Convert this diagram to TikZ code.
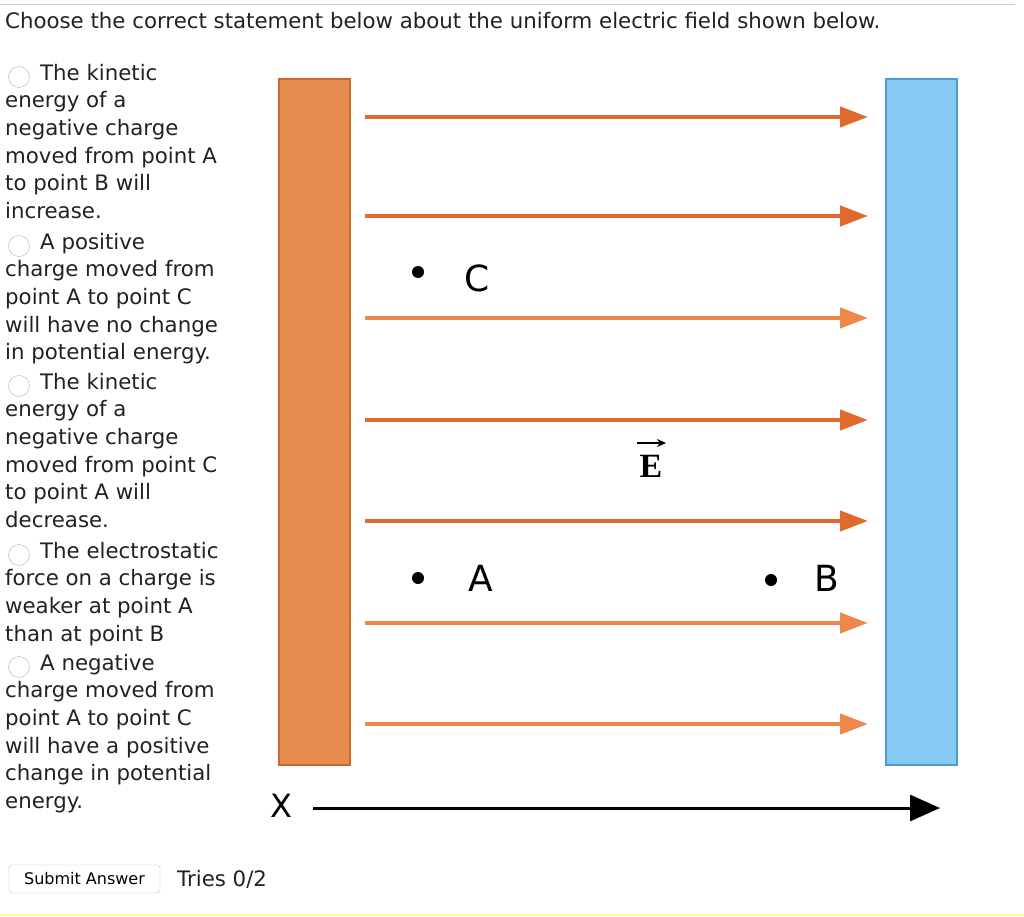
\documentclass[tikz,border=0pt]{standalone}
\usepackage{fontspec}
\setmainfont{DejaVu Sans}
\newfontfamily\serifE{Liberation Serif}
\usetikzlibrary{arrows.meta}
\definecolor{plateO}{HTML}{E58B50}
\definecolor{plateOb}{HTML}{C9692E}
\definecolor{plateB}{HTML}{86C9F2}
\definecolor{plateBb}{HTML}{4A9BD6}
\definecolor{arrD}{HTML}{DF6A2C}
\definecolor{arrL}{HTML}{F0874A}
\definecolor{txt}{HTML}{222222}
\begin{document}
\begin{tikzpicture}[x=1pt,y=-1pt,
  qtext/.style={anchor=north west,align=left,inner sep=0pt,font=\fontsize{21.3}{27.6}\selectfont,text=txt},
  radio/.style={circle,draw=gray!60,minimum size=21pt,inner sep=0pt},
  field/.style={line width=4.5pt,-{Triangle[length=28pt,width=20pt]}},
  dotc/.style={circle,fill=black,minimum size=12pt,inner sep=0pt},
  lbl/.style={font=\fontsize{36}{36}\selectfont,anchor=center}]
\useasboundingbox (0,0) rectangle (1024,917);
\fill[white] (0,0) rectangle (1024,917);
\draw[gray!40,line width=1pt] (0,5) -- (1015,5);
\draw[yellow!40,line width=1.5pt] (0,915) -- (1024,915);
\node[qtext,anchor=west,font=\fontsize{21.3}{24}\selectfont] (title) at (5,21) {Choose the correct statement below about the uniform electric field shown below.};
\foreach \n/\yy in {r1/77,r2/246,r3/386,r4/555,r5/667} \node[radio] (\n) at (19,\yy) {};
\node[qtext] (t1) at (5,64) {\hspace{35pt}The kinetic\\energy of a\\negative charge\\moved from point A\\to point B will\\increase.};
\node[qtext] (t2) at (5,233) {\hspace{35pt}A positive\\charge moved from\\point A to point C\\will have no change\\in potential energy.};
\node[qtext] (t3) at (5,373) {\hspace{35pt}The kinetic\\energy of a\\negative charge\\moved from point C\\to point A will\\decrease.};
\node[qtext] (t4) at (5,542) {\hspace{35pt}The electrostatic\\force on a charge is\\weaker at point A\\than at point B};
\node[qtext] (t5) at (5,654) {\hspace{35pt}A negative\\charge moved from\\point A to point C\\will have a positive\\change in potential\\energy.};
\draw[fill=plateO,draw=plateOb,line width=1.5pt] (279,79) rectangle (350,765);
\draw[fill=plateB,draw=plateBb,line width=1.5pt] (886,79) rectangle (957,765);
\foreach \yy/\c in {117/arrD,216/arrD,318/arrL,420/arrD,521/arrD,623/arrL,724/arrL}{
  \coordinate (s\yy) at (365,\yy); \coordinate (e\yy) at (868,\yy);
  \draw[field,draw=\c,color=\c] (s\yy) -- (e\yy);}
\node[dotc] (C) at (418,272) {}; \node[lbl] (Cl) at (477,278) {C};
\node[dotc] (A) at (418,578) {}; \node[lbl] (Al) at (481,578) {A};
\node[dotc] (B) at (771,580) {}; \node[lbl] (Bl) at (827,578) {B};
\node[font=\fontsize{34}{34}\selectfont\serifE\bfseries,inner sep=0pt] (E) at (651,466) {E};
\coordinate (Ea) at (637,443); \coordinate (Eb) at (666,443);
\draw[line width=2pt,-{Stealth[length=9pt,width=8pt]}] (Ea) -- (Eb);
\node[lbl,font=\fontsize{32}{32}\selectfont] (X) at (281,806) {X};
\coordinate (x1) at (940,808);
\draw[line width=3pt,-{Triangle[length=30pt,width=26pt]}] (X.east)++(18,2) -- (x1);
\node[draw=gray!50,rounded corners=3pt,minimum width=151pt,minimum height=28pt,inner sep=0pt,font=\fontsize{16}{18}\selectfont] (sub) at (84.5,879) {Submit Answer};
\node[anchor=west,inner sep=0pt,font=\fontsize{21.3}{24}\selectfont,text=txt] (tries) at (177,879) {Tries 0/2};
\end{tikzpicture}
\end{document}
